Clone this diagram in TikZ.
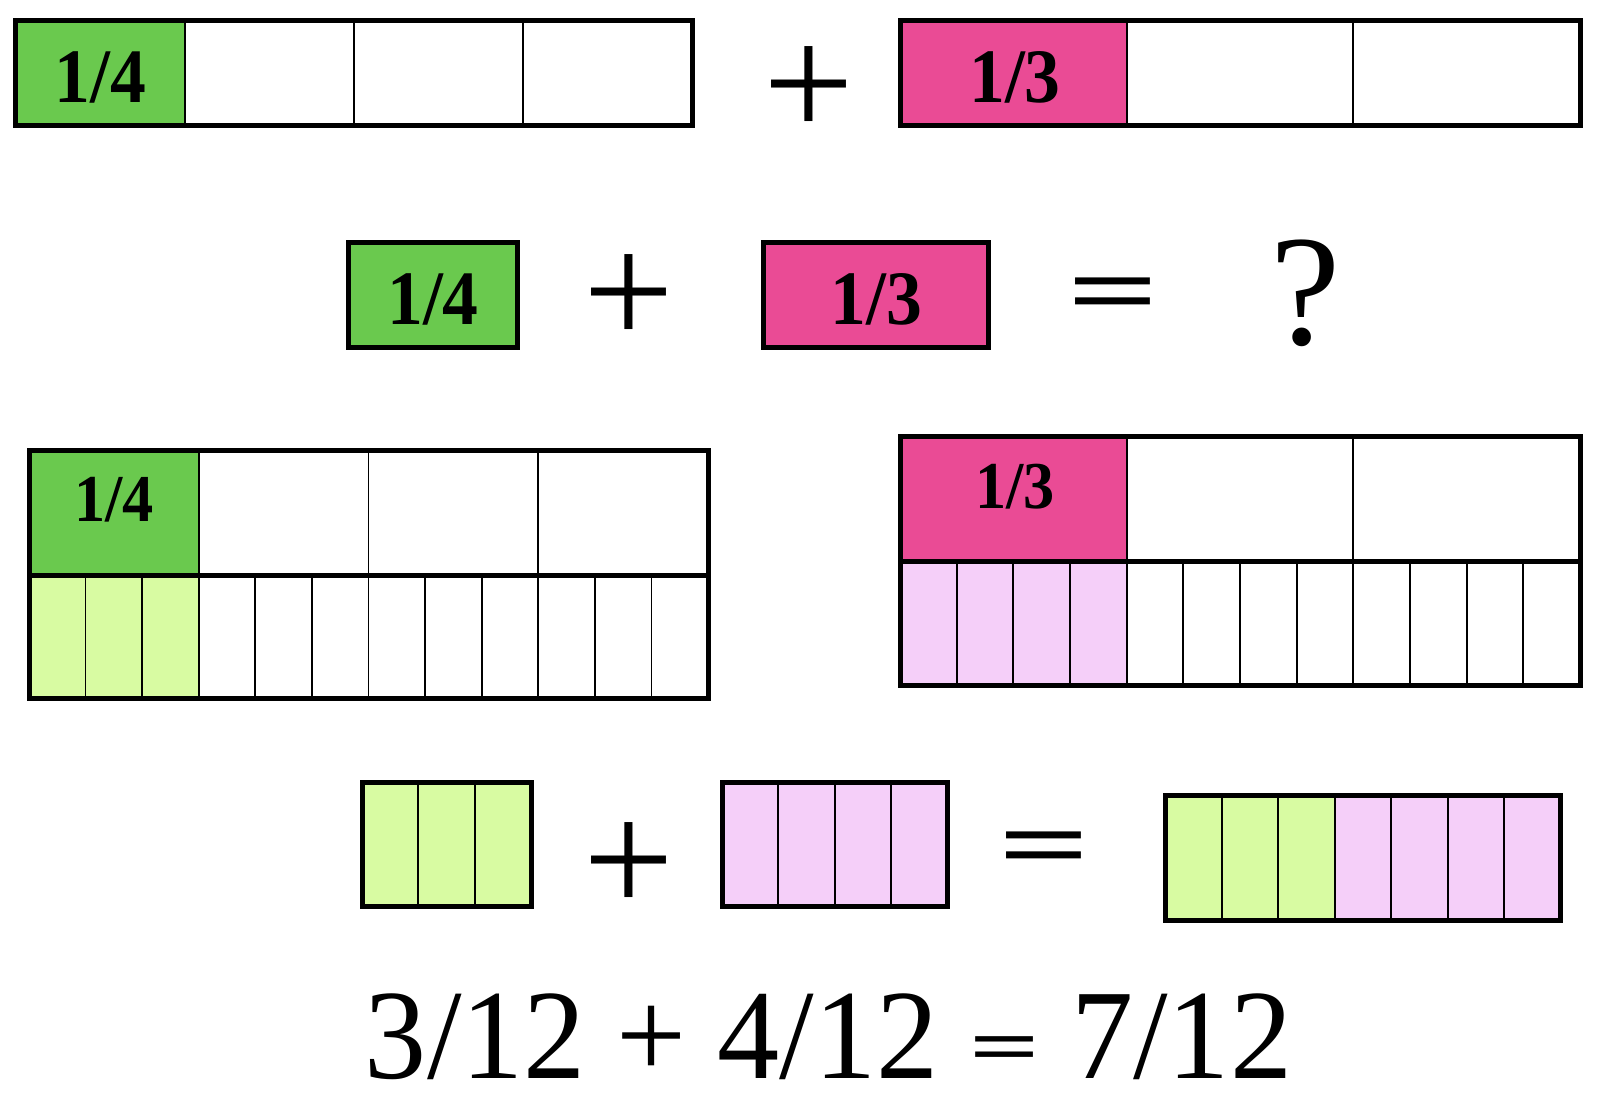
\documentclass[tikz,border=0pt]{standalone}
\usepackage{fontspec}
\setmainfont{Liberation Serif}
\definecolor{gDark}{RGB}{106,201,78}
\definecolor{pDark}{RGB}{234,75,149}
\definecolor{gLight}{RGB}{216,251,162}
\definecolor{pLight}{RGB}{245,207,249}
\tikzset{
  frame/.style={draw=black, line width=5pt},
  divider/.style={draw=black, line width=1.8pt},
  lblA/.style={inner sep=0pt, anchor=base, font=\bfseries\fontsize{77}{80}\selectfont},
  lblB/.style={inner sep=0pt, anchor=base, font=\bfseries\fontsize{67}{70}\selectfont},
  opsym/.style={inner sep=0pt, anchor=base, font=\fontsize{161}{165}\selectfont},
}
\newcommand{\lblsq}[1]{\scalebox{0.93}[1]{#1}}
\newcommand{\bigeq}{\scalebox{1}[0.62]{\bfseries =}}
\begin{document}
\begin{tikzpicture}[x=1pt,y=-1pt]
\useasboundingbox[fill=white] (0,0) rectangle (1600,1098);

% ---------- Row 1 ----------
\fill[gDark] (15.5,20.5) rectangle (184.75,125.5);
\foreach \xx in {184.75,354,523.25} \draw[divider] (\xx,20.5) -- (\xx,125.5);
\draw[frame] (15.5,20.5) rectangle (692.5,125.5);
\node[lblA] (q1) at (100.5,102) {\lblsq{1/4}};

\node[opsym] (plus1) at (809,137) {+};

\fill[pDark] (900,20.5) rectangle (1126.67,125.5);
\foreach \xx in {1126.67,1353.33} \draw[divider] (\xx,20.5) -- (\xx,125.5);
\draw[frame] (900,20.5) rectangle (1580,125.5);
\node[lblA] (t1) at (1015,102.5) {\lblsq{1/3}};

% ---------- Row 2 ----------
\draw[frame, fill=gDark] (348.5,242.5) rectangle (517,347.5);
\node[lblA] (q2) at (433,324) {\lblsq{1/4}};
\node[opsym] (plus2) at (628.6,345) {+};
\draw[frame, fill=pDark] (763.5,242.5) rectangle (988.5,347.5);
\node[lblA] (t2) at (876.5,324) {\lblsq{1/3}};
\node[opsym] (eq2) at (1113.7,324) {\bigeq};
\node[inner sep=0pt, anchor=base, font=\fontsize{158}{160}\selectfont] (qm) at (1306,344) {?};

% ---------- Row 3 left ----------
\fill[gDark] (29,450) rectangle (198.75,575);
\fill[gLight] (29,575) rectangle (198.75,698.5);
\foreach \xx in {198.75,368.5,538.25} \draw[divider] (\xx,450) -- (\xx,575);
\foreach \k in {1,...,11} \draw[divider] ({29+56.583*\k},575) -- ({29+56.583*\k},698.5);
\draw[frame] (29,575) -- (708,575);
\draw[frame] (29,450) rectangle (708,698.5);
\node[lblB] (q3) at (114.3,521.7) {\lblsq{1/4}};

% ---------- Row 3 right ----------
\fill[pDark] (900,436) rectangle (1126.67,561);
\fill[pLight] (900,561) rectangle (1126.67,685);
\foreach \xx in {1126.67,1353.33} \draw[divider] (\xx,436) -- (\xx,561);
\foreach \k in {1,...,11} \draw[divider] ({900+56.667*\k},561) -- ({900+56.667*\k},685);
\draw[frame] (900,561) -- (1580,561);
\draw[frame] (900,436) rectangle (1580,685);
\node[lblB] (t3) at (1015,508) {\lblsq{1/3}};

% ---------- Row 4 ----------
\fill[gLight] (362,782.5) rectangle (531,906.5);
\foreach \k in {1,2} \draw[divider] ({362+56.333*\k},782.5) -- ({362+56.333*\k},906.5);
\draw[frame] (362,782.5) rectangle (531,906.5);

\node[opsym] (plus4) at (628.7,913) {+};

\fill[pLight] (722,782.5) rectangle (947.5,906.5);
\foreach \k in {1,2,3} \draw[divider] ({722+56.375*\k},782.5) -- ({722+56.375*\k},906.5);
\draw[frame] (722,782.5) rectangle (947.5,906.5);

\node[opsym] (eq4) at (1044.5,878) {\bigeq};

\fill[gLight] (1165.5,795.5) rectangle (1334.8,920.5);
\fill[pLight] (1334.8,795.5) rectangle (1560.5,920.5);
\foreach \k in {1,...,6} \draw[divider] ({1165.5+56.43*\k},795.5) -- ({1165.5+56.43*\k},920.5);
\draw[frame] (1165.5,795.5) rectangle (1560.5,920.5);

% ---------- Equation ----------
\node[inner sep=0pt, anchor=base, font=\fontsize{128}{130}\selectfont] (eqn) at (828.5,1078.3)
  {\scalebox{0.97}[1]{3/12 + 4/12 \raisebox{5.6pt}{\scalebox{1}[0.6]{\bfseries =}} 7/12}};
\end{tikzpicture}
\end{document}
